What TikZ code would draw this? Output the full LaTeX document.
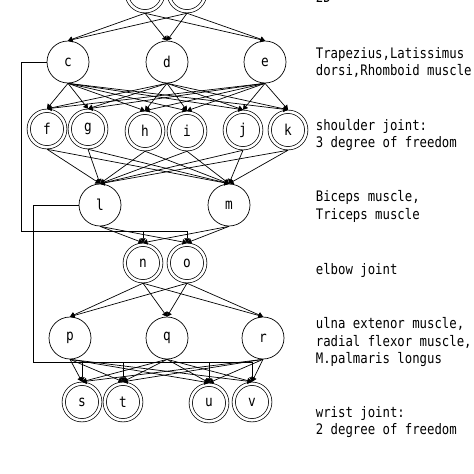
\documentclass[tikz,border=0pt]{standalone}
\usepackage{fontspec}
\newfontfamily\monofont[FakeStretch=0.85]{DejaVu Sans Mono}
\usetikzlibrary{arrows.meta}
\begin{document}
\begin{tikzpicture}[x=1pt,y=-1pt,line width=0.7pt,
  unit/.style={circle,draw,minimum size=42pt,inner sep=0pt,
    font=\monofont\fontsize{15}{15}\selectfont},
  joint/.style={circle,draw,double,double distance=2.6pt,minimum size=36.5pt,
    inner sep=0pt,outer sep=2pt,font=\monofont\fontsize{15}{15}\selectfont},
  conn/.style={-{Triangle[length=4.5pt,width=5.5pt]}},
  lab/.style={anchor=base west,inner sep=0pt,
    font=\monofont\fontsize{14.5}{17.5}\selectfont}]
\useasboundingbox (0,0) rectangle (474,474);
\clip (0,0) rectangle (474,474);
% nodes (a and b are cut off by the top edge; their letters are not visible)
\node[joint] (a) at (145,-7) {};
\node[joint] (b) at (187,-7) {};
\node[unit] (c) at (68,62) {c};
\node[unit] (d) at (167,62) {d};
\node[unit] (e) at (265,62) {e};
\node[joint] (f) at (47,129) {f};
\node[joint] (g) at (88,129) {g};
\node[joint] (h) at (145,131) {h};
\node[joint] (i) at (187,131) {i};
\node[joint] (j) at (243,130) {j};
\node[joint] (k) at (288,130) {k};
\node[unit] (l) at (100,205) {l};
\node[unit] (m) at (229,205) {m};
\node[joint] (n) at (143,263) {n};
\node[joint] (o) at (187,263) {o};
\node[unit] (p) at (70,338) {p};
\node[unit] (q) at (167,338) {q};
\node[unit] (r) at (263,338) {r};
\node[joint] (s) at (82,402) {s};
\node[joint] (t) at (123,402) {t};
\node[joint] (u) at (209,403) {u};
\node[joint] (v) at (252,402) {v};
% feed-forward connections
\foreach \s in {a,b} \foreach \t in {c,d,e} \draw[conn] (\s.south) -- (\t.north);
\foreach \s in {c,d,e} \foreach \t in {f,g,h,i,j,k} \draw[conn] (\s.south) -- (\t.north);
\foreach \s in {f,g,h,i,j,k} \foreach \t in {l,m} \draw[conn] (\s.south) -- (\t.north);
\foreach \s in {l,m} \foreach \t in {n,o} \draw[conn] (\s.south) -- (\t.north);
\foreach \s in {n,o} \foreach \t in {p,q,r} \draw[conn] (\s.south) -- (\t.north);
\foreach \s in {p,q,r} \foreach \t in {s,t,u,v} \draw[conn] (\s.south) -- (\t.north);
% feedback paths
\coordinate (k1) at (21,231);
\draw[conn] (c.west) -| (k1) -| (o.north);
\draw[conn] (n.north |- k1) -- (n.north);
\coordinate (k2) at (33,362);
\draw[conn] (l.west) -| (k2) -| (v.north);
\foreach \t in {s,t,u} \draw[conn] (\t.north |- k2) -- (\t.north);
% labels
\node[lab] (t0) at (315.5,2.7) {2D};
\node[lab] (t1) at (315.5,58.3) {Trapezius,Latissimus};
\node[lab] (t2) at (315.5,75.5) {dorsi,Rhomboid muscle};
\node[lab] (t3) at (315.5,130.3) {shoulder joint:};
\node[lab] (t4) at (315.5,147.5) {3 degree of freedom};
\node[lab] (t5) at (315.5,201.7) {Biceps muscle,};
\node[lab] (t6) at (315.5,219.2) {Triceps muscle};
\node[lab] (t7) at (315.5,274.3) {elbow joint};
\node[lab] (t8) at (315.5,328.5) {ulna extenor muscle,};
\node[lab] (t9) at (315.5,346) {radial flexor muscle,};
\node[lab] (t10) at (315.5,363.5) {M.palmaris longus};
\node[lab] (t11) at (315.5,417) {wrist joint:};
\node[lab] (t12) at (315.5,434.5) {2 degree of freedom};
\end{tikzpicture}
\end{document}
